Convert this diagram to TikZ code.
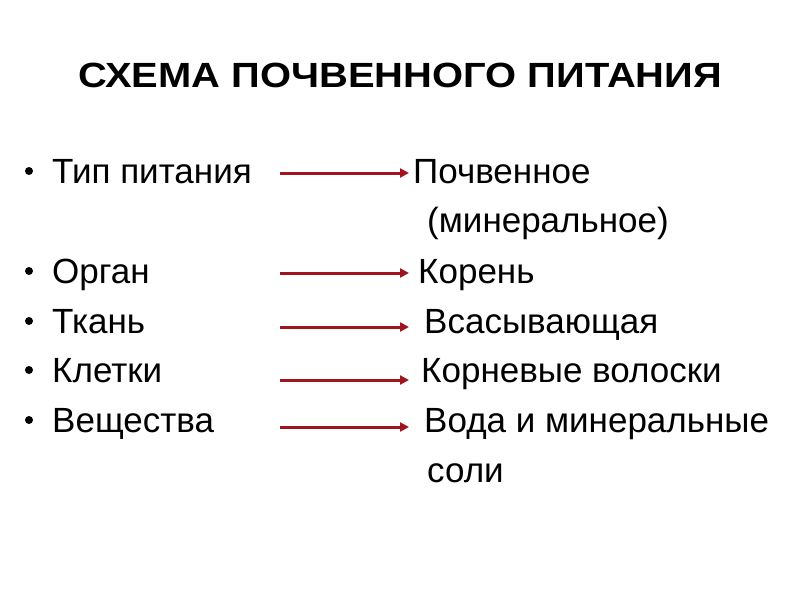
\documentclass[tikz,border=0pt]{standalone}
\usepackage{fontspec}
\setmainfont{Liberation Sans}
\usetikzlibrary{arrows.meta}
\definecolor{arrred}{HTML}{A01420}
\tikzset{
  body/.style={anchor=base west, inner sep=0pt, font=\fontsize{35}{40}\selectfont},
  ttl/.style={anchor=base, inner sep=0pt, font=\fontsize{35}{40}\selectfont\bfseries},
  bul/.style={circle, fill=black, inner sep=0pt, minimum size=8pt},
  conn/.style={draw=arrred, line width=3pt, -{Triangle[length=9pt,width=9pt]}}
}
\begin{document}
\begin{tikzpicture}[x=1pt,y=-1pt]
\useasboundingbox (0,0) rectangle (800,600);
\node[ttl] (title) at (400,87) {\scalebox{1.14}[1]{СХЕМА ПОЧВЕННОГО ПИТАНИЯ}};
% bullets
\node[bul] (b1) at (29,171) {};
\node[bul] (b2) at (29,271) {};
\node[bul] (b3) at (29,321) {};
\node[bul] (b4) at (29,370) {};
\node[bul] (b5) at (29,420) {};
% left texts
\node[body] (l1) at (52,183) {Тип питания};
\node[body] (l2) at (52,283) {Орган};
\node[body] (l3) at (52,333) {Ткань};
\node[body] (l4) at (52,382) {Клетки};
\node[body] (l5) at (52,432) {Вещества};
% right texts
\node[body] (r1) at (413,183) {Почвенное};
\node[body] (r1b) at (427,232) {(минеральное)};
\node[body] (r2) at (418,283) {Корень};
\node[body] (r3) at (424,333) {Всасывающая};
\node[body] (r4) at (421,382) {Корневые волоски};
\node[body] (r5) at (424,432) {Вода и минеральные};
\node[body] (r5b) at (427,482) {соли};
% arrow endpoints
\coordinate (s1) at (280,173); \coordinate (e1) at (409,173);
\coordinate (s2) at (280,273); \coordinate (e2) at (409,273);
\coordinate (s3) at (280,327); \coordinate (e3) at (409,327);
\coordinate (s4) at (280,380); \coordinate (e4) at (409,380);
\coordinate (s5) at (280,427); \coordinate (e5) at (409,427);
\draw[conn] (s1) -- (e1);
\draw[conn] (s2) -- (e2);
\draw[conn] (s3) -- (e3);
\draw[conn] (s4) -- (e4);
\draw[conn] (s5) -- (e5);
\end{tikzpicture}
\end{document}
